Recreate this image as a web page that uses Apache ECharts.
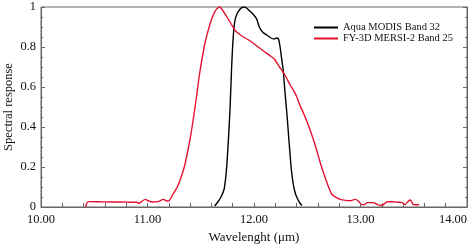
<!DOCTYPE html>
<html>
<head>
<meta charset="utf-8">
<script src="https://cdn.jsdelivr.net/npm/echarts@6/dist/echarts.min.js"></script>
<style>
  html, body { margin: 0; padding: 0; background: #fff; }
  #chart { width: 474px; height: 248px; }
</style>
</head>
<body>
<div id="chart"></div>
<script>
// wavelength (um) / relative response
const modisWl = [11.63, 11.66, 11.69, 11.72, 11.735, 11.745, 11.76, 11.775, 11.79, 11.805, 11.82, 11.84, 11.87, 11.90, 11.93, 11.96, 11.99, 12.025, 12.05, 12.08, 12.12, 12.16, 12.19, 12.21, 12.23, 12.245, 12.26, 12.275, 12.29, 12.31, 12.33, 12.35, 12.37, 12.39, 12.41, 12.43, 12.45];
const modisResp = [0.005, 0.025, 0.05, 0.09, 0.15, 0.21, 0.34, 0.49, 0.70, 0.85, 0.93, 0.965, 0.99, 1.0, 0.995, 0.98, 0.965, 0.94, 0.9, 0.875, 0.86, 0.845, 0.84, 0.845, 0.84, 0.80, 0.74, 0.68, 0.58, 0.46, 0.32, 0.19, 0.11, 0.065, 0.04, 0.02, 0.008];

const mersiWl = [10.42, 10.43, 10.45, 10.55, 10.65, 10.75, 10.85, 10.90, 10.92, 10.95, 10.98, 11.01, 11.05, 11.10, 11.15, 11.18, 11.20, 11.24, 11.28, 11.31, 11.35, 11.40, 11.43, 11.46, 11.49, 11.54, 11.59, 11.63, 11.66, 11.68, 11.71, 11.74, 11.78, 11.82, 11.86, 11.90, 11.95, 11.99, 12.04, 12.09, 12.15, 12.19, 12.24, 12.29, 12.34, 12.39, 12.43, 12.48, 12.53, 12.58, 12.62, 12.66, 12.70, 12.73, 12.77, 12.81, 12.86, 12.90, 12.95, 12.98, 13.01, 13.04, 13.06, 13.12, 13.15, 13.18, 13.21, 13.25, 13.30, 13.35, 13.39, 13.42, 13.45, 13.47, 13.49, 13.51, 13.55];
const mersiResp = [0.0, 0.02, 0.027, 0.026, 0.025, 0.025, 0.024, 0.024, 0.018, 0.03, 0.038, 0.03, 0.025, 0.027, 0.038, 0.03, 0.03, 0.065, 0.10, 0.14, 0.21, 0.34, 0.44, 0.55, 0.67, 0.82, 0.92, 0.975, 0.995, 1.0, 0.98, 0.955, 0.92, 0.885, 0.865, 0.85, 0.835, 0.82, 0.80, 0.78, 0.757, 0.74, 0.70, 0.66, 0.61, 0.565, 0.51, 0.45, 0.38, 0.30, 0.225, 0.16, 0.10, 0.065, 0.048, 0.038, 0.033, 0.031, 0.038, 0.03, 0.012, 0.012, 0.022, 0.022, 0.015, 0.008, 0.01, 0.026, 0.026, 0.024, 0.022, 0.012, 0.03, 0.035, 0.015, 0.011, 0.011];

const seriesNames = ['Aqua MODIS Band 32', 'FY-3D MERSI-2 Band 25'];

const font = 'Liberation Serif, Times New Roman, serif';
const zip = (xs, ys) => xs.map((x, i) => [x, ys[i]]);

const chart = echarts.init(document.getElementById('chart'));
chart.setOption({
  animation: false,
  textStyle: { fontFamily: font },
  grid: {
    left: 41, right: 7, top: 7, bottom: 41,
    containLabel: false, outerBoundsMode: 'none',
    show: true, borderColor: '#666', borderWidth: 1
  },
  legend: {
    orient: 'vertical',
    left: 309,
    top: 17,
    icon: 'rect',
    itemWidth: 24,
    itemHeight: 2,
    itemGap: 0,
    textStyle: { fontFamily: font, fontSize: 10.5, color: '#111' },
    data: seriesNames
  },
  xAxis: {
    type: 'value',
    min: 10, max: 14, interval: 1,
    name: 'Wavelenght (\u03bcm)',
    nameLocation: 'middle',
    nameGap: 24,
    nameMoveOverlap: false,
    nameTextStyle: { fontFamily: font, fontSize: 13, color: '#111' },
    axisLine: { lineStyle: { color: '#666' } },
    axisTick: { inside: true, length: 4, lineStyle: { color: '#666' } },
    minorTick: { show: true, splitNumber: 5, length: 4, lineStyle: { color: '#666' } },
    axisLabel: { fontFamily: font, fontSize: 12.5, color: '#111', margin: 6, alignMaxLabel: 'right', formatter: v => v.toFixed(2) },
    splitLine: { show: false }
  },
  yAxis: [{
    type: 'value',
    min: 0, max: 1, interval: 0.2,
    name: 'Spectral response',
    nameLocation: 'middle',
    nameGap: 26,
    nameMoveOverlap: false,
    nameTextStyle: { fontFamily: font, fontSize: 12.5, color: '#111' },
    axisLine: { show: true, lineStyle: { color: '#666' } },
    axisTick: { show: true, inside: true, length: 4, lineStyle: { color: '#666' } },
    minorTick: { show: true, splitNumber: 4, length: 2, lineStyle: { color: '#666' } },
    axisLabel: { fontFamily: font, fontSize: 12.5, color: '#111', margin: 5 },
    splitLine: { show: false }
  }, {
    type: 'value',
    position: 'right',
    min: 0, max: 1, interval: 0.2,
    axisLine: { show: true, lineStyle: { color: '#666' } },
    axisTick: { show: true, inside: true, length: 4, lineStyle: { color: '#666' } },
    minorTick: { show: true, splitNumber: 4, length: 2, lineStyle: { color: '#666' } },
    axisLabel: { show: false },
    splitLine: { show: false }
  }],
  series: [
    {
      name: seriesNames[0],
      type: 'line',
      data: zip(modisWl, modisResp),
      symbol: 'none',
      smooth: 0.2,
      lineStyle: { color: '#000', width: 1.4 },
      itemStyle: { color: '#000' }
    },
    {
      name: seriesNames[1],
      type: 'line',
      data: zip(mersiWl, mersiResp),
      symbol: 'none',
      smooth: 0.2,
      lineStyle: { color: '#e3132f', width: 1.4 },
      itemStyle: { color: '#e3132f' }
    }
  ]
});
</script>
</body>
</html>
